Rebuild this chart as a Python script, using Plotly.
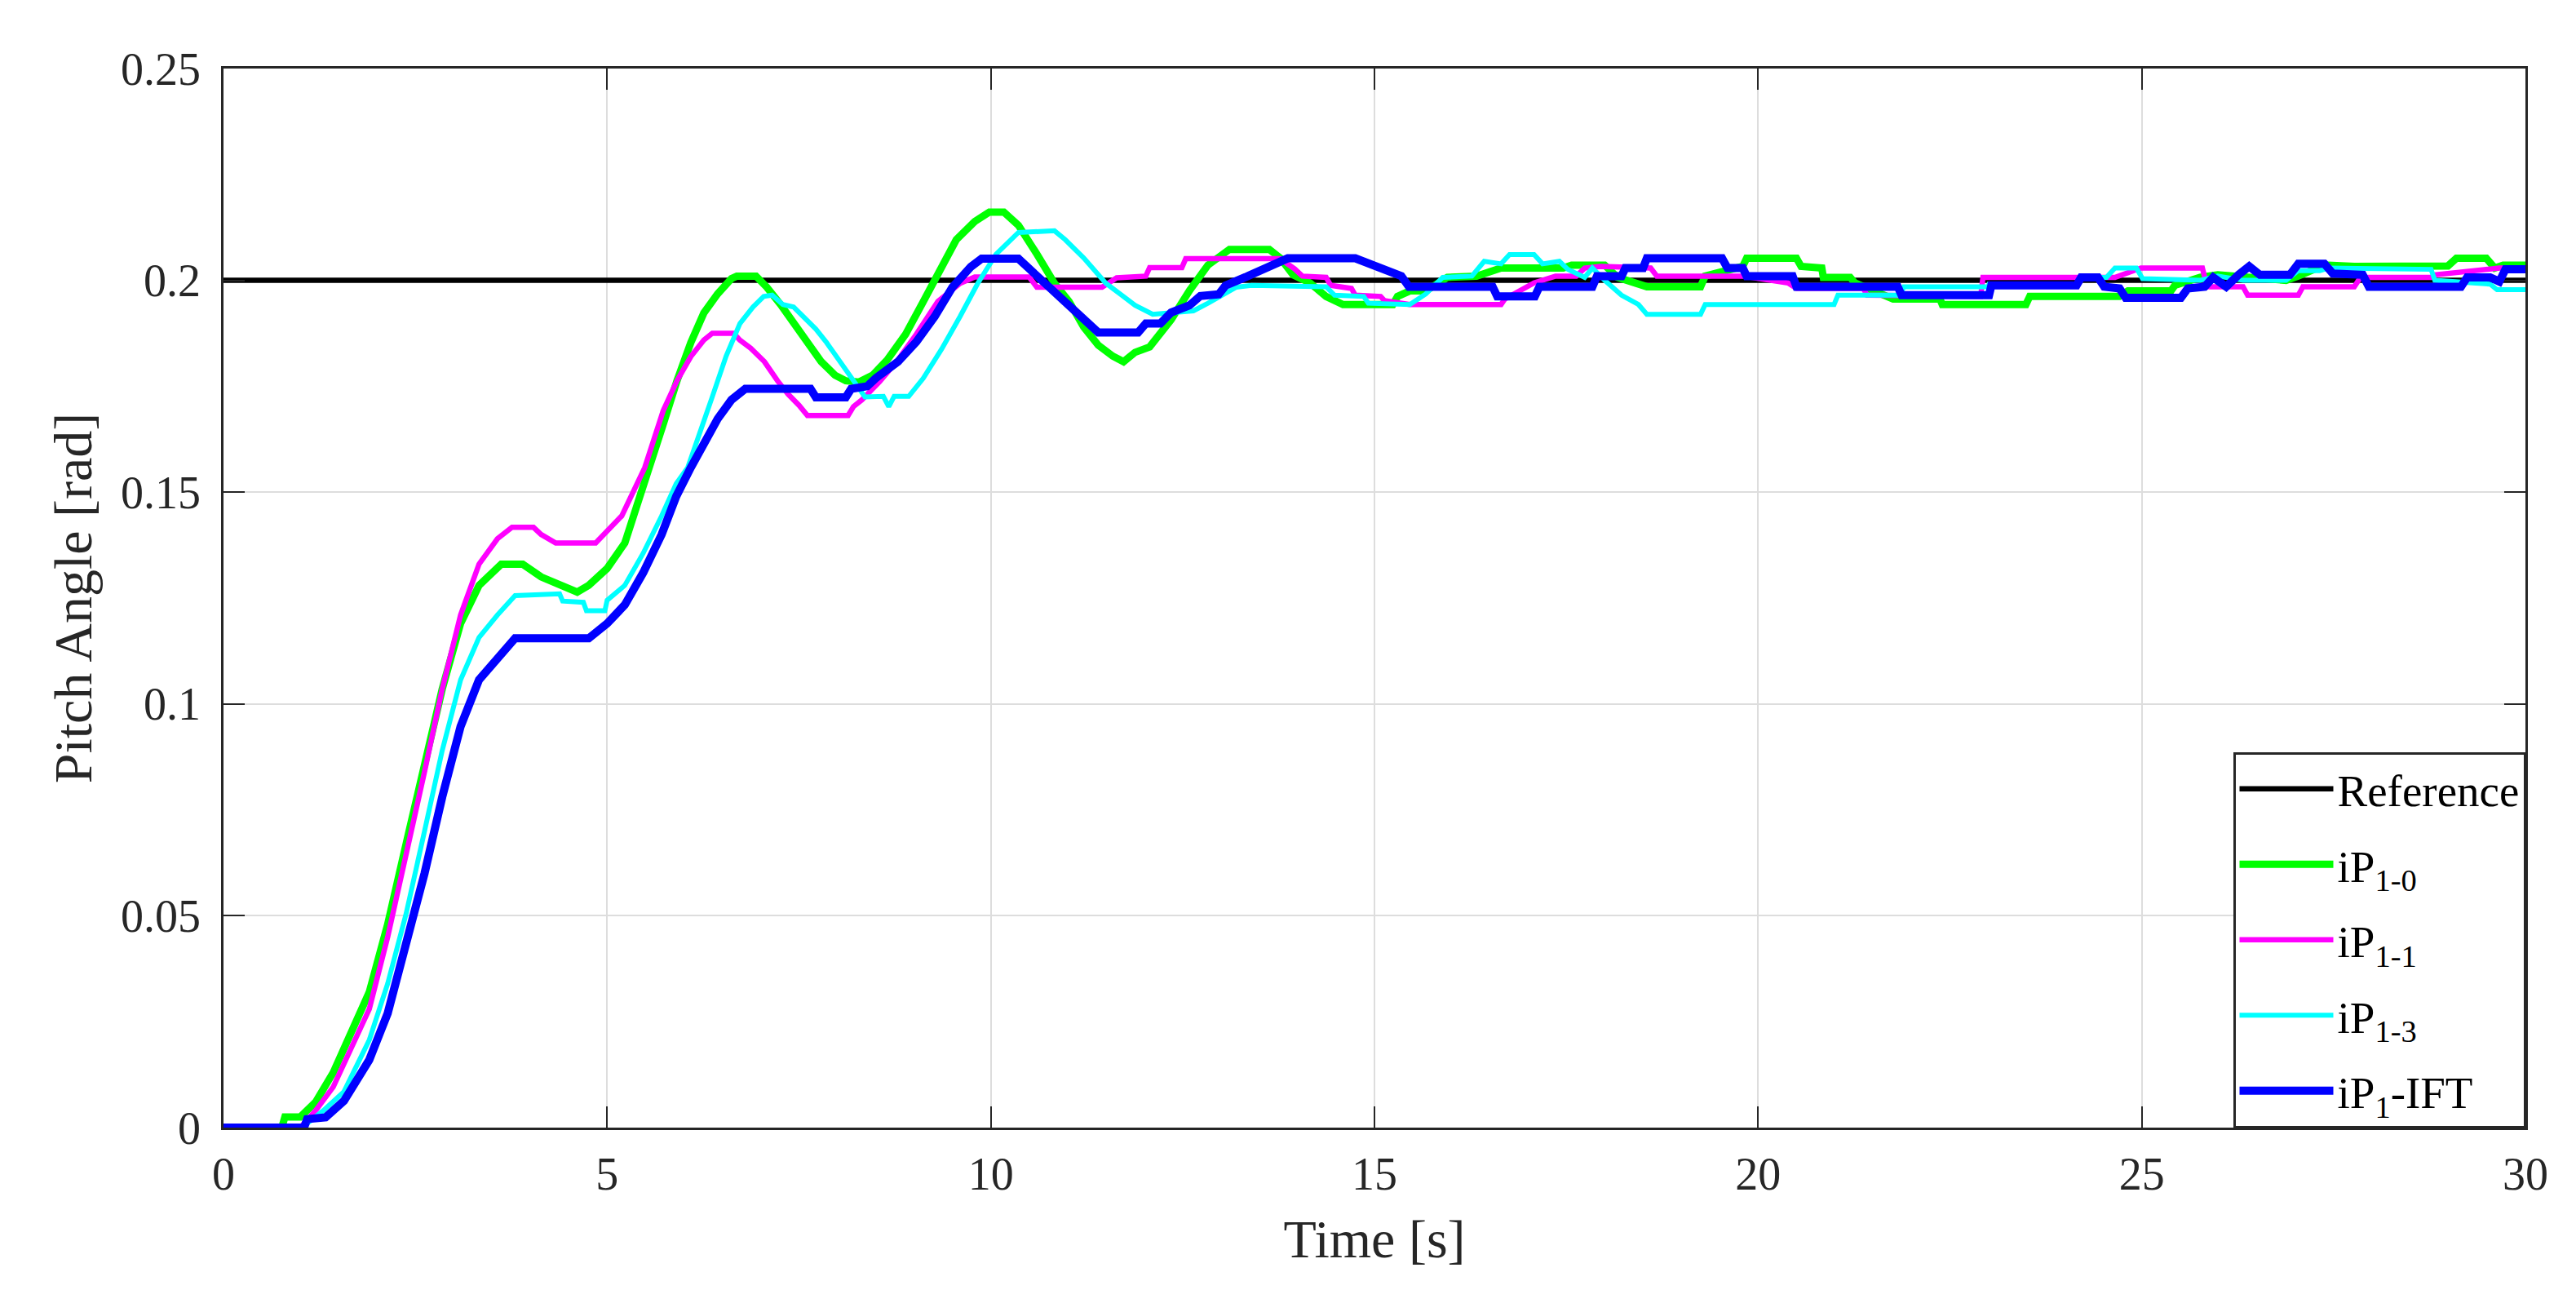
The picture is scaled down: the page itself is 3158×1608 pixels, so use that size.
import plotly.graph_objects as go

# time [s] / pitch angle [rad]
ref_t = [0, 30]
ref_y = [0.2, 0.2]

ip10_t = [0, 0.76, 0.8, 1.0, 1.2, 1.43, 1.9, 2.14, 2.38, 2.62, 2.85, 3.09, 3.33, 3.62, 3.9,
          4.14, 4.42, 4.61, 4.76, 5.0, 5.23, 5.56, 5.73, 5.91, 6.09, 6.26, 6.44, 6.62, 6.69,
          6.94, 7.08, 7.26, 7.43, 7.61, 7.79, 7.97, 8.11, 8.28, 8.46, 8.65, 8.89, 9.12, 9.36,
          9.55, 9.79, 9.98, 10.17, 10.36, 10.6, 10.83, 11.02, 11.21, 11.4, 11.59, 11.73, 11.88,
          12.07, 12.35, 12.59, 12.83, 13.11, 13.63, 13.77, 13.94, 14.16, 14.37, 14.59, 15.24,
          15.3, 15.46, 15.67, 15.95, 16.33, 16.65, 17.46, 17.57, 18.0, 18.17, 18.55, 19.25,
          19.31, 19.8, 19.85, 20.5, 20.56, 20.83, 20.85, 21.2, 21.26, 21.54, 21.76, 22.37, 22.4,
          23.49, 23.54, 24.71, 24.82, 25.38, 25.43, 25.76, 25.99, 26.88, 27.04, 27.38, 27.77,
          28.99, 29.1, 29.49, 29.6, 29.71, 30]
ip10_y = [0, 0, 0.0025, 0.0025, 0.006, 0.013, 0.032, 0.048, 0.067, 0.086, 0.1035, 0.119, 0.128,
          0.133, 0.133, 0.130, 0.128, 0.1264, 0.128, 0.132, 0.138, 0.1558, 0.166, 0.1763,
          0.1853, 0.1923, 0.1968, 0.2004, 0.201, 0.201, 0.1984, 0.1943, 0.1898, 0.1853, 0.1808,
          0.1776, 0.1763, 0.176, 0.1776, 0.1812, 0.1873, 0.195, 0.2036, 0.2096, 0.2139, 0.2161,
          0.2161, 0.213, 0.2062, 0.1993, 0.195, 0.189, 0.1847, 0.1821, 0.1808, 0.183, 0.1843,
          0.1907, 0.1976, 0.2036, 0.2073, 0.2073, 0.2053, 0.2013, 0.1994, 0.1962, 0.1943,
          0.1943, 0.1962, 0.1975, 0.1975, 0.2007, 0.201, 0.2029, 0.2029, 0.2036, 0.2036, 0.2007,
          0.1985, 0.1985, 0.201, 0.2033, 0.2052, 0.2052, 0.2033, 0.2029, 0.2007, 0.2007, 0.1994,
          0.1975, 0.1956, 0.1956, 0.1943, 0.1943, 0.1962, 0.1962, 0.1975, 0.1975, 0.1988, 0.2007,
          0.2013, 0.2, 0.201, 0.2036, 0.2033, 0.2034, 0.2052, 0.2052, 0.2029, 0.2036, 0.2036]

ip11_t = [0, 1.0, 1.05, 1.2, 1.43, 1.9, 2.14, 2.38, 2.62, 2.85, 3.09, 3.33, 3.57, 3.76, 4.04,
          4.14, 4.33, 4.85, 4.95, 5.19, 5.49, 5.73, 5.91, 6.09, 6.26, 6.37, 6.65, 6.73, 6.87,
          7.05, 7.22, 7.36, 7.5, 7.61, 8.14, 8.21, 8.32, 8.55, 8.79, 9.03, 9.31, 9.6, 9.79,
          10.5, 10.6, 11.45, 11.64, 12.02, 12.07, 12.49, 12.54, 13.77, 13.96, 14.06, 14.37,
          14.43, 14.7, 14.75, 15.08, 15.13, 15.46, 16.65, 16.7, 16.98, 17.08, 17.36, 17.63,
          17.74, 17.95, 18.6, 18.68, 19.8, 20.39, 20.5, 21.37, 21.42, 22.9, 22.93, 24.65,
          24.99, 25.79, 25.85, 26.32, 26.38, 27.04, 27.1, 27.77, 27.85, 28.77, 28.82, 29.66, 30]
ip11_y = [0, 0, 0.001, 0.004, 0.0096, 0.028, 0.045, 0.064, 0.084, 0.1035, 0.121, 0.133, 0.139,
          0.1417, 0.1417, 0.140, 0.138, 0.138, 0.140, 0.1444, 0.1558, 0.1692, 0.1763, 0.182,
          0.1859, 0.1875, 0.1875, 0.1859, 0.184, 0.1808, 0.1763, 0.1731, 0.1705, 0.1681,
          0.1681, 0.1702, 0.1718, 0.1761, 0.1812, 0.1873, 0.195, 0.1993, 0.2008, 0.2008,
          0.1984, 0.1984, 0.2006, 0.201, 0.203, 0.203, 0.2051, 0.2051, 0.2027, 0.201, 0.2007,
          0.1988, 0.1981, 0.1965, 0.1962, 0.1952, 0.1943, 0.1943, 0.1956, 0.1985, 0.1994,
          0.201, 0.201, 0.2029, 0.2033, 0.2029, 0.201, 0.201, 0.1994, 0.1981, 0.1981, 0.1965,
          0.1962, 0.2007, 0.2007, 0.2029, 0.2029, 0.1985, 0.1985, 0.1965, 0.1965, 0.1985,
          0.1985, 0.2007, 0.2007, 0.2013, 0.2029, 0.2029]

ip13_t = [0, 1.05, 1.09, 1.3, 1.57, 1.9, 2.14, 2.38, 2.62, 2.85, 3.09, 3.33, 3.57, 3.8, 4.38,
          4.42, 4.69, 4.73, 4.97, 5.0, 5.23, 5.47, 5.71, 5.9, 6.05, 6.19, 6.37, 6.55, 6.73,
          6.9, 7.04, 7.15, 7.29, 7.43, 7.58, 7.72, 7.86, 8.04, 8.21, 8.36, 8.6, 8.67, 8.74,
          8.93, 9.12, 9.36, 9.6, 9.83, 10.07, 10.36, 10.83, 10.97, 11.21, 11.5, 11.69, 11.88,
          12.11, 12.64, 12.83, 13.2, 13.4, 14.37, 14.48, 14.86, 14.92, 15.46, 15.67, 15.89,
          16.27, 16.43, 16.65, 16.76, 17.08, 17.19, 17.41, 17.52, 17.74, 17.84, 18.0, 18.22,
          18.44, 18.55, 19.25, 19.31, 20.99, 21.04, 21.85, 21.9, 23.0, 23.01, 24.15, 24.21,
          24.54, 24.65, 24.93, 25.01, 25.76, 25.99, 26.32, 26.88, 27.04, 27.32, 27.43, 28.77,
          28.82, 29.54, 29.63, 30]
ip13_y = [0, 0, 0.001, 0.004, 0.0085, 0.0207, 0.034, 0.0505, 0.070, 0.089, 0.1057, 0.1157,
          0.121, 0.1256, 0.126, 0.1243, 0.124, 0.122, 0.122, 0.1245, 0.128, 0.1356, 0.1444,
          0.152, 0.1558, 0.1635, 0.1725, 0.1821, 0.1898, 0.1937, 0.1962, 0.1965, 0.1943,
          0.1937, 0.1911, 0.1885, 0.1853, 0.1808, 0.1763, 0.1725, 0.1726, 0.1702, 0.1726,
          0.1726, 0.1769, 0.1838, 0.1915, 0.1993, 0.2062, 0.2113, 0.2117, 0.2096, 0.2053,
          0.1993, 0.1967, 0.1941, 0.192, 0.1928, 0.1946, 0.1984, 0.1988, 0.1985, 0.1965,
          0.1962, 0.1946, 0.1943, 0.1968, 0.2007, 0.201, 0.2045, 0.2039, 0.2061, 0.2061,
          0.2039, 0.2045, 0.2026, 0.2007, 0.2029, 0.2, 0.1965, 0.1943, 0.192, 0.192, 0.1943,
          0.1943, 0.1965, 0.1965, 0.1985, 0.1985, 0.1991, 0.1991, 0.2007, 0.2007, 0.2029,
          0.2029, 0.2004, 0.2, 0.201, 0.2, 0.2, 0.2023, 0.2023, 0.2029, 0.2026, 0.2, 0.1991,
          0.1978, 0.1978]

ift_t = [0, 1.05, 1.09, 1.33, 1.57, 1.9, 2.14, 2.38, 2.62, 2.85, 3.09, 3.33, 3.57, 3.8, 4.76,
         5.0, 5.23, 5.47, 5.71, 5.9, 6.09, 6.26, 6.44, 6.62, 6.8, 7.65, 7.72, 8.11, 8.18, 8.39,
         8.5, 8.79, 9.03, 9.27, 9.5, 9.74, 9.88, 10.36, 10.45, 10.69, 10.93, 11.16, 11.4, 11.92,
         12.02, 12.21, 12.35, 12.59, 12.73, 12.97, 13.06, 13.35, 13.63, 13.87, 14.75, 15.02,
         15.35, 15.45, 16.54, 16.6, 17.09, 17.15, 17.84, 17.9, 18.22, 18.27, 18.5, 18.55,
         19.53, 19.6, 19.8, 19.85, 20.45, 20.5, 21.82, 21.87, 23.01, 23.04, 24.15, 24.21,
         24.43, 24.51, 24.71, 24.79, 25.51, 25.6, 25.82, 25.93, 26.1, 26.26, 26.4, 26.54,
         26.93, 27.04, 27.38, 27.49, 27.88, 27.96, 29.16, 29.24, 29.54, 29.66, 29.74, 30]
ift_y = [0, 0, 0.002, 0.0024, 0.0063, 0.016, 0.027, 0.043, 0.060, 0.078, 0.0947, 0.1057, 0.111,
         0.1155, 0.1155, 0.119, 0.1234, 0.131, 0.140, 0.149, 0.1558, 0.1615, 0.1673, 0.1718,
         0.1744, 0.1744, 0.1724, 0.1724, 0.1744, 0.175, 0.1769, 0.1808, 0.1855, 0.1915, 0.1984,
         0.2032, 0.2051, 0.2051, 0.2036, 0.1993, 0.195, 0.1915, 0.1877, 0.1877, 0.1898, 0.1898,
         0.1924, 0.1941, 0.1963, 0.1967, 0.1988, 0.201, 0.2032, 0.2052, 0.2052, 0.2033, 0.201,
         0.1985, 0.1985, 0.1962, 0.1962, 0.1985, 0.1985, 0.201, 0.201, 0.2029, 0.2029, 0.2052,
         0.2052, 0.2029, 0.2029, 0.201, 0.201, 0.1985, 0.1985, 0.1965, 0.1965, 0.1988, 0.1988,
         0.2007, 0.2007, 0.1985, 0.1981, 0.1959, 0.1959, 0.1981, 0.1985, 0.2007, 0.1985,
         0.2013, 0.2033, 0.2013, 0.2013, 0.2039, 0.2039, 0.2016, 0.2013, 0.1985, 0.1985,
         0.2007, 0.2007, 0.1997, 0.2026, 0.2026]

series = [
    ("Reference", ref_t, ref_y, "#000000", 6.5),
    ("iP<sub>1-0</sub>", ip10_t, ip10_y, "#00ff00", 9),
    ("iP<sub>1-1</sub>", ip11_t, ip11_y, "#ff00ff", 6.5),
    ("iP<sub>1-3</sub>", ip13_t, ip13_y, "#00ffff", 6),
    ("iP<sub>1</sub>-IFT", ift_t, ift_y, "#0000ff", 10),
]

FONT = "Liberation Serif"
INK = "#262626"

fig = go.Figure()
for i, (name, t, y, color, w) in enumerate(series):
    fig.add_trace(go.Scatter(x=t, y=y, mode="lines", name=name, legendgroup=str(i),
                             line=dict(color=color, width=w)))

axis_style = dict(
    showline=True, linecolor=INK, linewidth=2.5, mirror="ticks",
    ticks="inside", ticklen=26, tickwidth=2, tickcolor=INK,
    showgrid=True, gridcolor="#dddddd", gridwidth=2, zeroline=False,
    tickfont=dict(family=FONT, size=56, color=INK),
)

fig.update_xaxes(range=[0, 30], tickvals=[0, 5, 10, 15, 20, 25, 30],
                 ticklabelstandoff=6,
                 title=dict(text="Time [s]", font=dict(family=FONT, size=66, color=INK),
                            standoff=26),
                 **axis_style)
fig.update_yaxes(range=[0, 0.25], tickvals=[0, 0.05, 0.1, 0.15, 0.2, 0.25],
                 ticklabelstandoff=14,
                 title=dict(text="Pitch Angle [rad]", font=dict(family=FONT, size=66, color=INK),
                            standoff=14),
                 **axis_style)

# the page body adds an 8 px offset, so the margins are shifted to keep the
# plot area where the reference has it (x 274-3096, y 84-1382)
fig.update_layout(
    width=3158, height=1608,
    margin=dict(l=266, r=70, t=76, b=234),
    paper_bgcolor="white", plot_bgcolor="white",
    font=dict(family=FONT, color=INK),
    legend=dict(x=1, y=0, xanchor="right", yanchor="bottom",
                bgcolor="white", bordercolor=INK, borderwidth=2.5,
                font=dict(family=FONT, size=55, color="#000000"),
                traceorder="grouped", tracegroupgap=18, itemwidth=115),
)

fig.write_html("out.html")
